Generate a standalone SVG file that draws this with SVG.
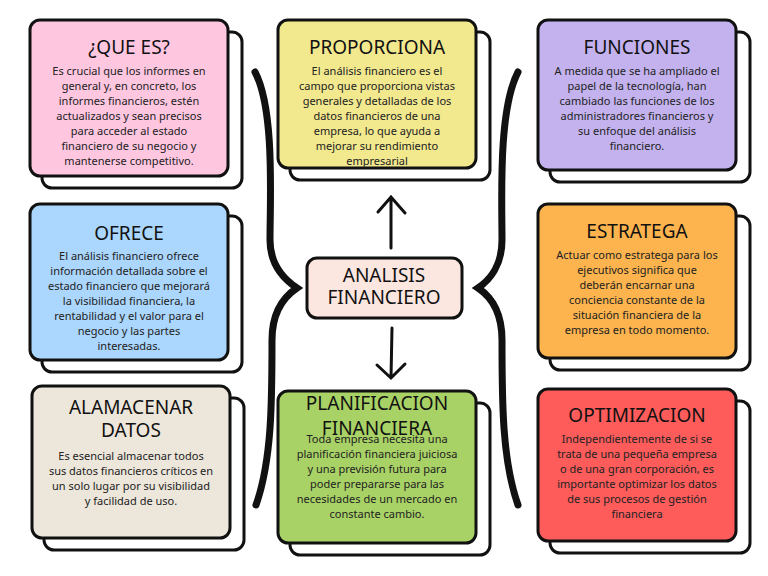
<svg xmlns="http://www.w3.org/2000/svg" width="768" height="576" viewBox="0 0 768 576">
<style>
.sh{fill:#fff;stroke:#111;stroke-width:3}
.cd{stroke:#111;stroke-width:3}
.t{font-family:"Noto Sans","DejaVu Sans",sans-serif;font-size:19px;fill:#111;text-anchor:middle}
.b{font-family:"Noto Sans","DejaVu Sans",sans-serif;font-size:11px;fill:#222;text-anchor:middle}
.br{fill:none;stroke:#111;stroke-width:7;stroke-linecap:round;stroke-linejoin:miter}
.ar{fill:none;stroke:#111;stroke-width:3;stroke-linecap:round}
</style>
<rect width="768" height="576" fill="#fff"/>
<g id="conn">
<path class="br" d="M255 72 C275 110 270 200 270 240 C270 265 285 280 297 288 C285 296 272 310 272 340 C272 400 272 460 256 505"/>
<path class="br" d="M518 72 C498 110 502 200 502 240 C502 265 490 280 478 288 C490 296 502 310 502 340 C502 400 502 460 518 505"/>
<path class="ar" d="M391 248 L391 198 M378 212 L391 197 L405 213"/>
<path class="ar" d="M392 328 L391 378 M377 365 L391 378 L405 364"/>
</g>
<g id="quees">
<rect class="sh" x="42" y="32" width="200" height="156" rx="10"/>
<rect class="cd" x="30" y="20" width="198" height="156" rx="10" fill="#ffc6e0"/>
<text class="t" x="129" y="54">¿QUE ES?</text>
<text class="b" x="129" y="75">Es crucial que los informes en</text>
<text class="b" x="129" y="90">general y, en concreto, los</text>
<text class="b" x="129" y="105">informes financieros, estén</text>
<text class="b" x="129" y="120">actualizados y sean precisos</text>
<text class="b" x="129" y="135">para acceder al estado</text>
<text class="b" x="129" y="150">financiero de su negocio y</text>
<text class="b" x="129" y="165">mantenerse competitivo.</text>
</g>
<g id="proporciona">
<rect class="sh" x="290" y="32" width="200" height="148" rx="10"/>
<rect class="cd" x="278" y="20" width="198" height="148" rx="10" fill="#f2e88e"/>
<text class="t" x="377" y="54">PROPORCIONA</text>
<text class="b" x="377" y="75">El análisis financiero es el</text>
<text class="b" x="377" y="90">campo que proporciona vistas</text>
<text class="b" x="377" y="105">generales y detalladas de los</text>
<text class="b" x="377" y="120">datos financieros de una</text>
<text class="b" x="377" y="135">empresa, lo que ayuda a</text>
<text class="b" x="377" y="150">mejorar su rendimiento</text>
<text class="b" x="377" y="165">empresarial</text>
</g>
<g id="funciones">
<rect class="sh" x="550" y="32" width="200" height="150" rx="10"/>
<rect class="cd" x="538" y="20" width="198" height="150" rx="10" fill="#c3b2ee"/>
<text class="t" x="637" y="54">FUNCIONES</text>
<text class="b" x="637" y="75">A medida que se ha ampliado el</text>
<text class="b" x="637" y="90">papel de la tecnología, han</text>
<text class="b" x="637" y="105">cambiado las funciones de los</text>
<text class="b" x="637" y="120">administradores financieros y</text>
<text class="b" x="637" y="135">su enfoque del análisis</text>
<text class="b" x="637" y="150">financiero.</text>
</g>
<g id="ofrece">
<rect class="sh" x="42" y="216" width="200" height="156" rx="10"/>
<rect class="cd" x="30" y="204" width="198" height="156" rx="10" fill="#abd6fd"/>
<text class="t" x="129" y="240">OFRECE</text>
<text class="b" x="129" y="260">El análisis financiero ofrece</text>
<text class="b" x="129" y="275">información detallada sobre el</text>
<text class="b" x="129" y="290">estado financiero que mejorará</text>
<text class="b" x="129" y="305">la visibilidad financiera, la</text>
<text class="b" x="129" y="320">rentabilidad y el valor para el</text>
<text class="b" x="129" y="335">negocio y las partes</text>
<text class="b" x="129" y="350">interesadas.</text>
</g>
<g id="estratega">
<rect class="sh" x="550" y="216" width="200" height="154" rx="10"/>
<rect class="cd" x="538" y="204" width="198" height="154" rx="10" fill="#fdb44e"/>
<text class="t" x="637" y="238">ESTRATEGA</text>
<text class="b" x="637" y="259">Actuar como estratega para los</text>
<text class="b" x="637" y="274">ejecutivos significa que</text>
<text class="b" x="637" y="289">deberán encarnar una</text>
<text class="b" x="637" y="304">conciencia constante de la</text>
<text class="b" x="637" y="319">situación financiera de la</text>
<text class="b" x="637" y="334">empresa en todo momento.</text>
</g>
<g id="almacenar">
<rect class="sh" x="44" y="398" width="200" height="152" rx="10"/>
<rect class="cd" x="32" y="386" width="198" height="152" rx="10" fill="#ede6da"/>
<text class="t" x="131" y="414">ALAMACENAR</text>
<text class="t" x="131" y="437">DATOS</text>
<text class="b" x="131" y="460">Es esencial almacenar todos</text>
<text class="b" x="131" y="475">sus datos financieros críticos en</text>
<text class="b" x="131" y="490">un solo lugar por su visibilidad</text>
<text class="b" x="131" y="505">y facilidad de uso.</text>
</g>
<g id="planificacion">
<rect class="sh" x="290" y="403" width="200" height="152" rx="10"/>
<rect class="cd" x="278" y="391" width="198" height="152" rx="10" fill="#a9d266"/>
<text class="t" x="377" y="410">PLANIFICACION</text>
<text class="t" x="377" y="435">FINANCIERA</text>
<text class="b" x="377" y="443">Toda empresa necesita una</text>
<text class="b" x="377" y="458">planificación financiera juiciosa</text>
<text class="b" x="377" y="473">y una previsión futura para</text>
<text class="b" x="377" y="488">poder prepararse para las</text>
<text class="b" x="377" y="503">necesidades de un mercado en</text>
<text class="b" x="377" y="518">constante cambio.</text>
</g>
<g id="optimizacion">
<rect class="sh" x="550" y="401" width="200" height="152" rx="10"/>
<rect class="cd" x="538" y="389" width="198" height="152" rx="10" fill="#fd5c5b"/>
<text class="t" x="637" y="422">OPTIMIZACION</text>
<text class="b" x="637" y="443">Independientemente de si se</text>
<text class="b" x="637" y="458">trata de una pequeña empresa</text>
<text class="b" x="637" y="473">o de una gran corporación, es</text>
<text class="b" x="637" y="488">importante optimizar los datos</text>
<text class="b" x="637" y="503">de sus procesos de gestión</text>
<text class="b" x="637" y="518">financiera</text>
</g>
<g id="centro">
<rect class="cd" x="307" y="258" width="155" height="60" rx="10" fill="#fbe6e0"/>
<text class="t" x="384" y="282" font-size="16">ANALISIS</text>
<text class="t" x="384" y="304" font-size="16">FINANCIERO</text>
</g>
</svg>
